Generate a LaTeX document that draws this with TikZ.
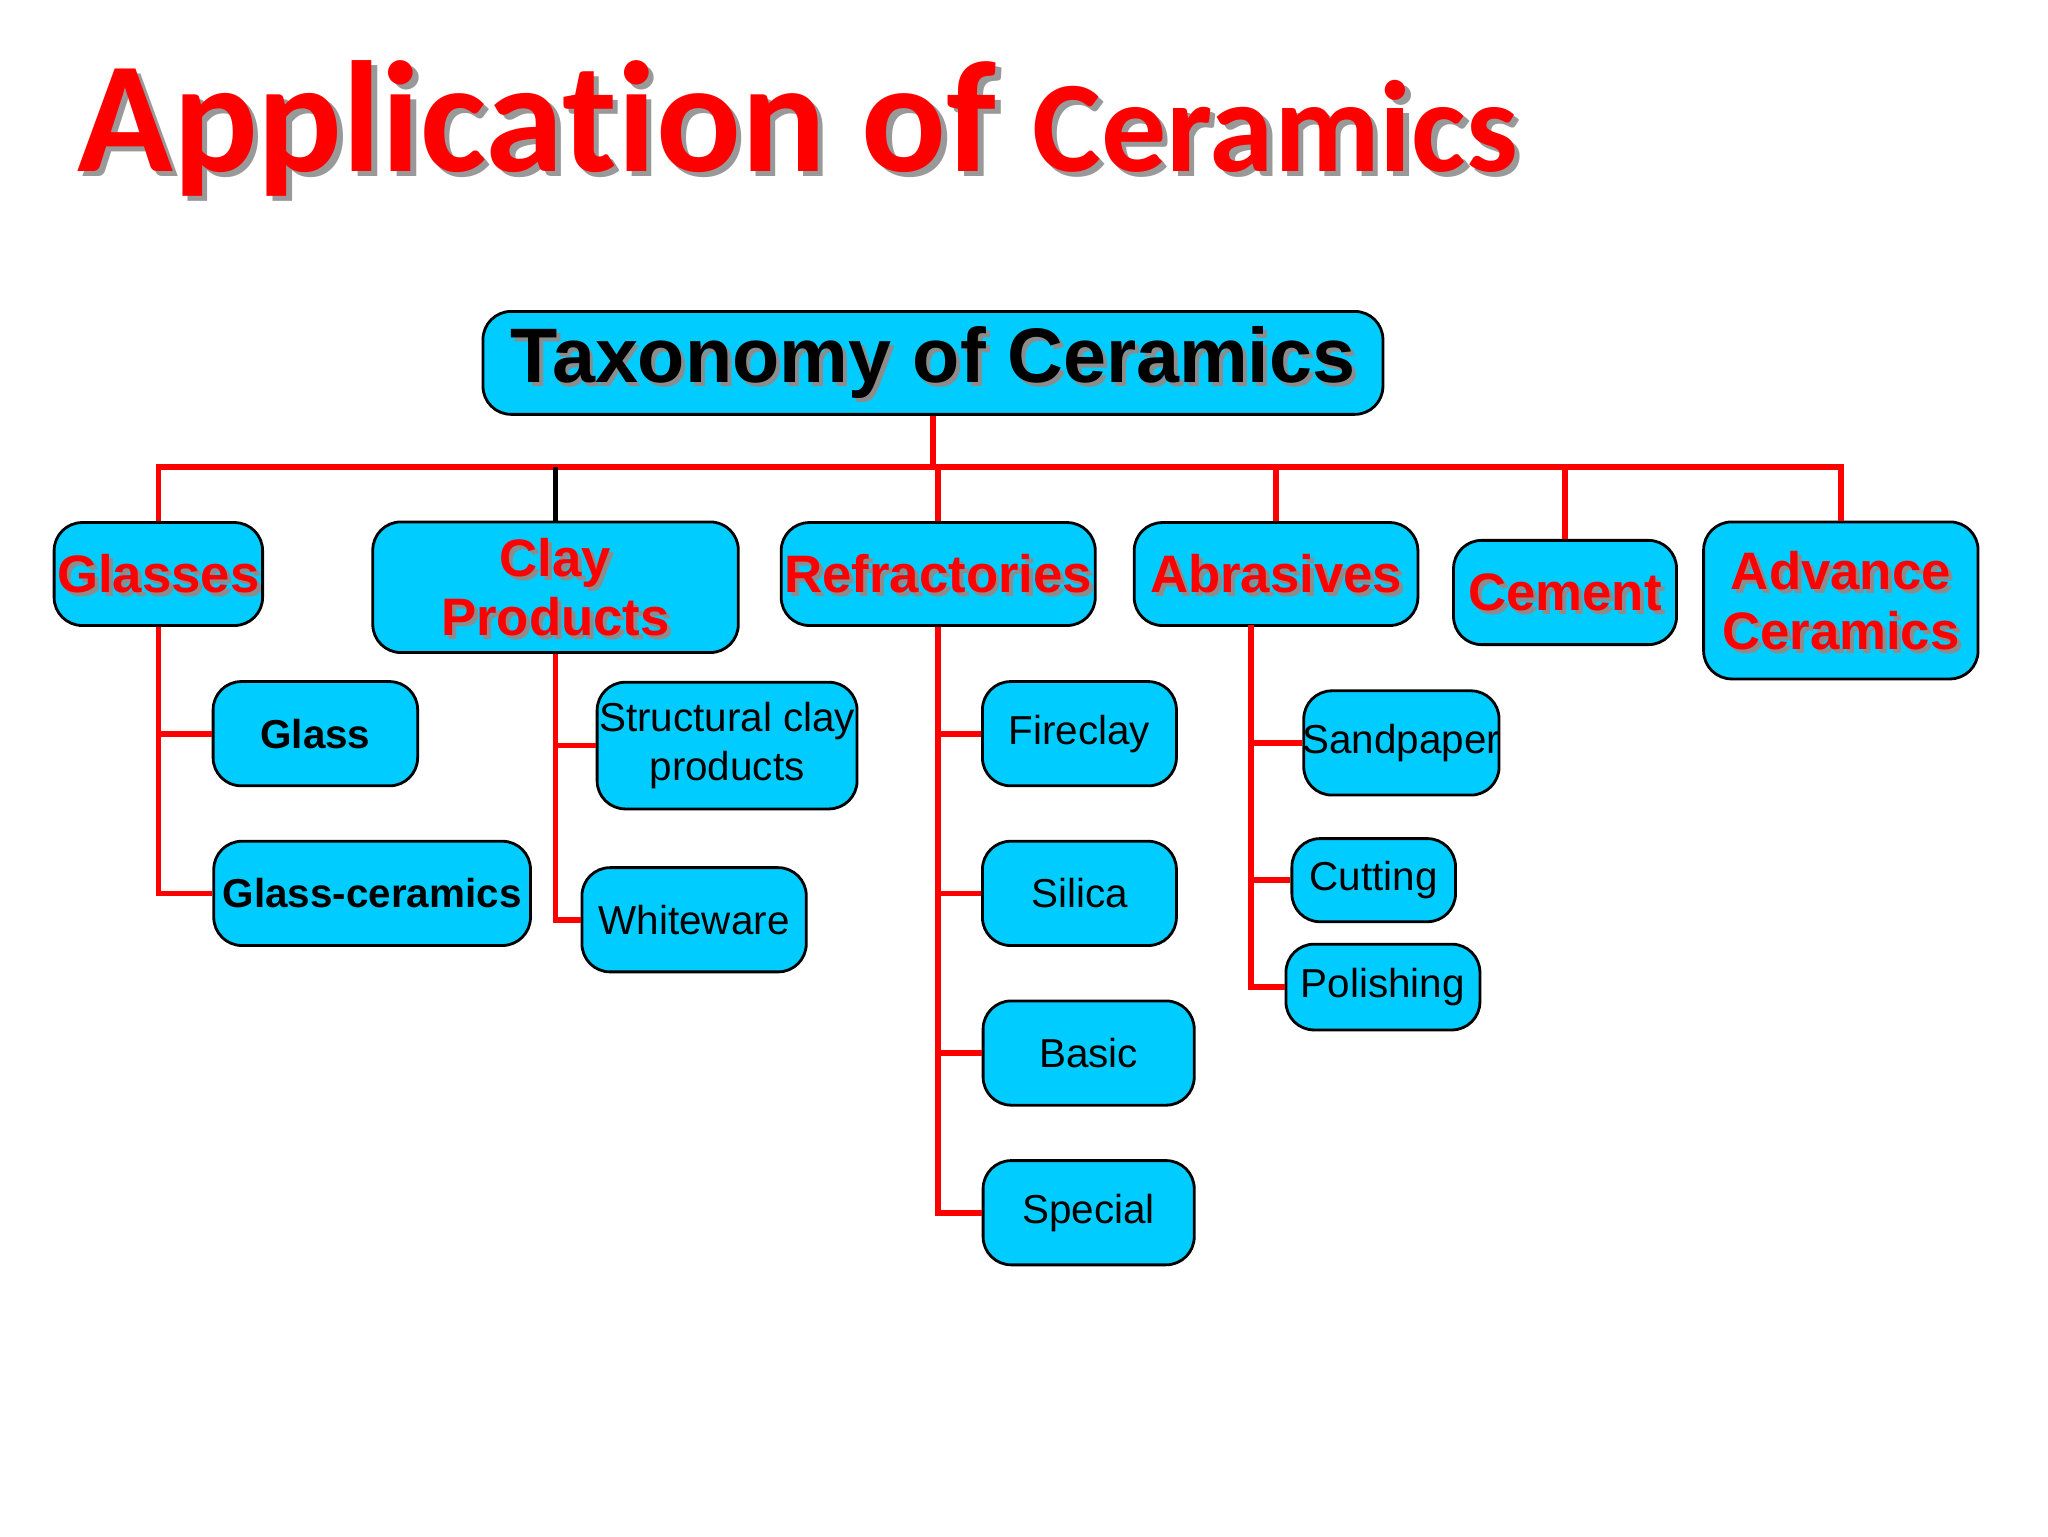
\documentclass[tikz,border=0pt]{standalone}
\usepackage{fontspec}
\setmainfont{Liberation Sans}
\newfontfamily\titlefont[Ligatures=NoCommon]{Carlito}
\definecolor{cy}{HTML}{00CCFF}
\definecolor{rd}{HTML}{FF0000}
\begin{document}
\begin{tikzpicture}[x=0.0132cm,y=-0.0132cm,
  box/.style={draw=black,fill=cy,rounded corners=8pt,line width=0.8pt,inner sep=0pt,align=center},
  lone/.style={font=\bfseries\fontsize{15}{17}\selectfont,text=rd},
  ltwo/.style={font=\fontsize{11.5}{14}\selectfont},
  shad/.style={text=black!45,align=center},
  wire/.style={draw=rd,line width=1.6pt}]
\useasboundingbox[fill=white] (0,0) rectangle (1552,1164);
% title
\node[anchor=base west,inner sep=0,text=black!40] at (62,134) {\titlefont\bfseries\fontsize{45}{48}\selectfont Application of {\fontsize{37}{40}\selectfont Ceramics}};
\node[anchor=base west,inner sep=0,text=rd] (title) at (58,130) {\titlefont\bfseries\fontsize{45}{48}\selectfont Application of {\fontsize{37}{40}\selectfont Ceramics}};
% boxes: center x,y ; width, height
\newcommand\bx[5]{\node[box,minimum width=#4*0.0132cm,minimum height=#5*0.0132cm] (#1) at (#2,#3) {};}
\bx{tax}{707}{275}{682}{78}
\bx{glasses}{120}{435}{158}{78}
\bx{clay}{421}{445}{277}{99}
\bx{refr}{711}{435}{238}{78}
\bx{abr}{967}{435}{215}{78}
\bx{cem}{1186}{449}{169}{79}
\bx{adv}{1395}{455}{208}{119}
\bx{glass}{239}{556}{155}{79}
\bx{gc}{282}{677}{240}{79}
\bx{struct}{551}{565}{197}{96}
\bx{white}{526}{697}{170}{79}
\bx{fire}{818}{556}{147}{79}
\bx{silica}{818}{677}{147}{79}
\bx{basic}{825}{798}{160}{79}
\bx{special}{825}{919}{160}{79}
\bx{sand}{1062}{563}{148}{79}
\bx{cut}{1041}{667}{124}{63}
\bx{pol}{1048}{748}{147}{65}
% texts
\node[shad,font=\bfseries\fontsize{22}{25}\selectfont] at ([shift={(3,3)}]tax) {Taxonomy of Ceramics};
\node[font=\bfseries\fontsize{22}{25}\selectfont] at (tax) {Taxonomy of Ceramics};
\node[shad,lone,text=black!45] at ([shift={(3,3)}]glasses) {Glasses};
\node[lone] at (glasses) {Glasses};
\node[shad,lone,text=black!45] at ([shift={(3,3)}]clay) {Clay\\Products};
\node[lone,align=center] at (clay) {Clay\\Products};
\node[shad,lone,text=black!45] at ([shift={(3,3)}]refr) {Refractories};
\node[lone] at (refr) {Refractories};
\node[shad,lone,text=black!45] at ([shift={(3,3)}]abr) {Abrasives};
\node[lone] at (abr) {Abrasives};
\node[shad,lone,text=black!45] at ([shift={(3,3)}]cem) {Cement};
\node[lone] at (cem) {Cement};
\node[shad,lone,text=black!45] at ([shift={(3,3)}]adv) {Advance\\Ceramics};
\node[lone,align=center] at (adv) {Advance\\Ceramics};
\node[ltwo,font=\bfseries\fontsize{11.5}{14}\selectfont] at (glass) {Glass};
\node[ltwo,font=\bfseries\fontsize{11.5}{14}\selectfont] at (gc) {Glass-ceramics};
\node[ltwo,align=center] at (struct) {Structural clay\\products};
\node[ltwo] at (white) {Whiteware};
\node[ltwo] at (fire) {Fireclay};
\node[ltwo] at (silica) {Silica};
\node[ltwo] at (basic) {Basic};
\node[ltwo] at (special) {Special};
\node[ltwo] at (sand) {Sandpaper};
\node[ltwo] at (cut) {Cutting};
\node[ltwo] at (pol) {Polishing};
% connectors
\coordinate (bus) at (707,354);
\draw[wire] (tax.south) -- (bus);
\draw[wire] (glasses.north) -- (glasses.north |- bus) -- (adv.north |- bus) -- (adv.north);
\draw[line width=1.6pt,black] (clay.north) -- (clay.north |- bus);
\draw[wire] (refr.north) -- (refr.north |- bus);
\draw[wire] (abr.north) -- (abr.north |- bus);
\draw[wire] (cem.north) -- (cem.north |- bus);
\draw[wire] (glasses.south) |- (glass.west);
\draw[wire] (glasses.south) |- (gc.west);
\draw[wire] (clay.south) |- (struct.west);
\draw[wire] (clay.south) |- (white.west);
\draw[wire] (refr.south) |- (fire.west);
\draw[wire] (refr.south) |- (silica.west);
\draw[wire] (refr.south) |- (basic.west);
\draw[wire] (refr.south) |- (special.west);
\coordinate (as) at (948,474);
\draw[wire] (as) |- (sand.west);
\draw[wire] (as) |- (cut.west);
\draw[wire] (as) |- (pol.west);
\end{tikzpicture}
\end{document}
